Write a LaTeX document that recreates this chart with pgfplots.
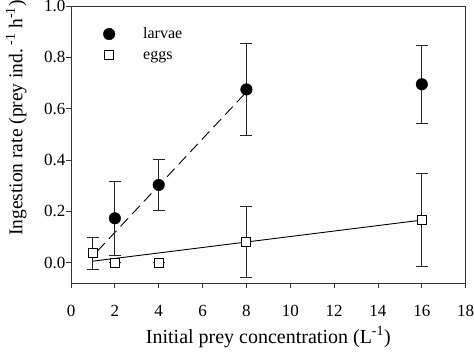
\documentclass[border=0pt]{standalone}
\usepackage{fontspec}
\setmainfont{Liberation Serif}
\usepackage{pgfplots}
\pgfplotsset{compat=1.18}
\newcommand{\lgfont}{\fontsize{16}{16}\selectfont}
\begin{document}
\begin{tikzpicture}
\begin{axis}[
  scale only axis, width=394.7pt, height=277pt,
  at={(71pt,72pt)}, anchor=south west,
  xmin=0, xmax=18, ymin=-0.079, ymax=1.0,
  xtick={0,2,...,18}, ytick={0,0.2,0.4,0.6,0.8,1.0},
  /pgf/number format/assume math mode=true,
  yticklabel style={xshift=3pt, /pgf/number format/fixed, /pgf/number format/fixed zerofill, /pgf/number format/precision=1},
  tick label style={font=\fontsize{17}{17}\selectfont},
  xticklabel style={yshift=-14pt},
  tick align=outside, major tick length=5pt,
  xtick pos=bottom, ytick pos=left,
  axis line style={line width=0.9pt, black!80},
  every tick/.style={line width=0.9pt, black!80},
  xlabel={Initial prey concentration (L\textsuperscript{-1})},
  ylabel={Ingestion rate (prey ind.\textsuperscript{ -1} h\textsuperscript{-1})},
  every axis x label/.style={at={(axis description cs:0.5,-0.195)}, anchor=center, font=\fontsize{20}{20}\selectfont},
  every axis y label/.style={at={(axis description cs:-0.139,0.595)}, anchor=center, rotate=90, font=\fontsize{19.5}{19.5}\selectfont},
  legend style={draw=none, fill=none, inner sep=0pt, at={(axis description cs:0.081,0.932)}, anchor=north west,
    nodes={inner sep=1pt, text height=12pt, text depth=4pt}, row sep=3pt},
  legend cell align=left,
  legend image code/.code={\path[draw=none,fill=none] (-6pt,-5pt) rectangle (33pt,5pt); \draw[#1] plot coordinates {(0pt,0pt)};},
  error bars/error bar style={line width=0.9pt, black!85},
  error bars/error mark options={rotate=90, mark size=6pt, line width=0.9pt, black!85},
]
\addplot[black, line width=0.9pt, dash pattern=on 11pt off 6pt, forget plot] coordinates {(1.2,0.045) (8,0.665)};
\addplot[black, line width=0.9pt, forget plot] coordinates {(1,0.006) (16,0.166)};
\addplot[only marks, mark=*, mark size=5.8pt, black, fill=black,
  error bars/.cd, y dir=both, y explicit]
  coordinates {
    (2,0.173) +- (0,0.145)
    (4,0.303) +- (0,0.100)
    (8,0.675) +- (0,0.180)
    (16,0.695) +- (0,0.152)
  };
\addlegendentry{\lgfont larvae}
\addplot[only marks, mark=square*, mark size=4.5pt, black, fill=white, mark options={line width=0.9pt},
  error bars/.cd, y dir=both, y explicit]
  coordinates {
    (1,0.037) +- (0,0.063)
    (2,0.0) +- (0,0)
    (4,0.0) +- (0,0)
    (8,0.080) +- (0,0.138)
    (16,0.166) +- (0,0.180)
  };
\addlegendentry{\lgfont eggs}
\end{axis}
\pgfresetboundingbox
\useasboundingbox (0pt,0pt) rectangle (474pt,355pt);
\end{tikzpicture}
\end{document}
